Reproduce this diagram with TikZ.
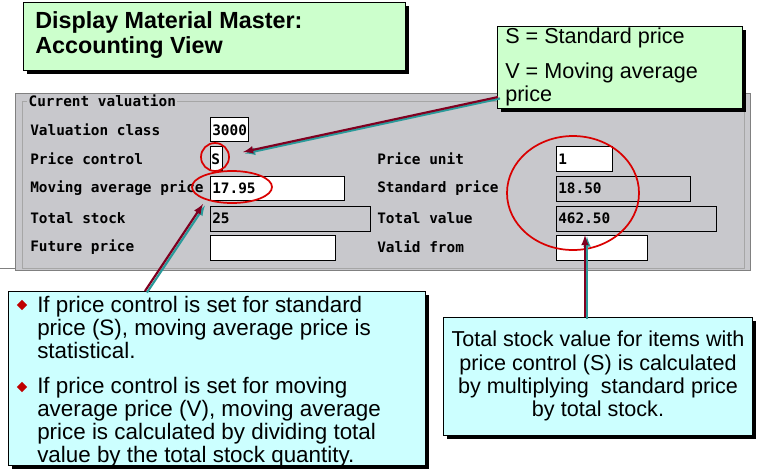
\documentclass[tikz,border=0pt]{standalone}
\usepackage{fontspec}
\setmainfont{Liberation Sans}
\newfontfamily\sapfont{DejaVu Sans Mono}
\usetikzlibrary{shapes.geometric}
\definecolor{callgreen}{HTML}{CCFFCC}
\definecolor{callcyan}{HTML}{CCFFFF}
\definecolor{panelgray}{HTML}{C8C8CC}
\definecolor{arrred}{HTML}{800020}
\definecolor{arrteal}{HTML}{2A9A9A}
\begin{document}
\begin{tikzpicture}[x=0.75pt,y=-0.75pt,
  callout/.style={draw=black,line width=0.6pt},
  shadow/.style={fill=black},
  lbl/.style={anchor=west,inner sep=0,font=\sapfont\bfseries\fontsize{10.8}{12}\selectfont},
  fld/.style={draw=black,line width=0.5pt},
  val/.style={anchor=west,inner sep=0,font=\sapfont\bfseries\fontsize{10.8}{12}\selectfont},
  ring/.style={draw=red!85!black,line width=1.3pt},
  txt/.style={font=\fontsize{16.2}{17.3}\selectfont,align=left,inner sep=0}]
\useasboundingbox (0,0) rectangle (766,472);
\fill[white] (0,0) rectangle (766,472);
% panel
\draw[gray,fill=panelgray] (15,93) rectangle (750,270);
\draw[gray] (0,268) -- (15,268);
\draw[gray!70!white,line width=0.6pt] (22,101) rectangle (744,268);
\node[lbl,fill=panelgray,inner sep=1pt] (cv) at (27,101) {Current valuation};
% left labels
\node[lbl] (l1) at (30,130) {Valuation class};
\node[lbl] (l2) at (30,159) {Price control};
\node[lbl] (l3) at (30,188) {Moving average price};
\node[lbl] (l4) at (30,218) {Total stock};
\node[lbl] (l5) at (30,247) {Future price};
\node[lbl] (r1) at (377,159) {Price unit};
\node[lbl] (r2) at (377,188) {Standard price};
\node[lbl] (r3) at (377,218) {Total value};
\node[lbl] (r4) at (377,247) {Valid from};
% fields
\draw[fld,fill=white] (210,117) rectangle (248,141);
\node[val] (v1) at (212,130) {3000};
\draw[fld,fill=white] (210,146) rectangle (222,170);
\node[val] (v2) at (211,159) {S};
\draw[fld,fill=white] (210,176) rectangle (344,200);
\node[val] (v3) at (212,188) {17.95};
\draw[fld,fill=panelgray] (210,206) rectangle (370,231);
\node[val] (v4) at (212,218) {25};
\draw[fld,fill=white] (210,235) rectangle (335,260);
\draw[fld,fill=white] (556,146) rectangle (612,171);
\node[val] (w1) at (558,159) {1};
\draw[fld,fill=panelgray] (556,176) rectangle (690,201);
\node[val] (w2) at (558,188) {18.50};
\draw[fld,fill=panelgray] (556,206) rectangle (716,231);
\node[val] (w3) at (558,218) {462.50};
\draw[fld,fill=white] (556,235) rectangle (647,260);
% rings
\draw[ring] (215,157) ellipse [x radius=14,y radius=14];
\draw[ring] (232,187) ellipse [x radius=40,y radius=16];
\draw[ring] (573,193) ellipse [x radius=66,y radius=57];
% title
\fill[shadow] (27,6) rectangle (409,74);
\draw[callout,fill=callgreen] (23,2) rectangle (405,70);
\node[txt,anchor=west,font=\bfseries\fontsize{17.5}{19}\selectfont] (title) at (35,35) {Display Material Master:\\Accounting View};
% SV callout
\fill[shadow] (501,30) rectangle (746,112);
\draw[callout,fill=callgreen] (497,26) rectangle (742,108);
\node[txt,anchor=west] (sv) at (505,67) {S = Standard price\\[9pt]V = Moving average\\price};
% left box
\fill[shadow] (12,295) rectangle (429,469);
\draw[callout,fill=callcyan] (8,291) rectangle (425,465);
\node[txt,anchor=north west,font=\fontsize{16.8}{17.3}\selectfont] (lb) at (37,296) {If price control is set for standard\\price (S), moving average price is\\statistical.\\[9pt]If price control is set for moving\\average price (V), moving average\\price is calculated by dividing total\\value by the total stock quantity.};
\node[diamond,fill=red!75!black,inner sep=0,minimum size=8pt] (d1) at (22,305) {};
\node[diamond,fill=red!75!black,inner sep=0,minimum size=8pt] (d2) at (22,387) {};
% right box
\fill[shadow] (447,321) rectangle (756,439);
\draw[callout,fill=callcyan] (443,317) rectangle (752,435);
\node[txt,align=center] (rb) at (598,376) {Total stock value for items with\\price control (S) is calculated\\by multiplying\ \ standard price\\by total stock.};
% arrows
\coordinate (a1s) at (498,97); \coordinate (a1e) at (243,152);
\coordinate (a2s) at (145,291); \coordinate (a2e) at (203,204);
\coordinate (a3s) at (585,317); \coordinate (a3e) at (585,235);
\foreach \s/\e in {a1s/a1e,a2s/a2e,a3s/a3e}{
  \draw[arrteal,line width=1.6pt,-latex] ([shift={(2,1.5)}]\s) -- ([shift={(2,1.5)}]\e);
  \draw[arrred,line width=1.6pt,-latex] (\s) -- (\e);
}
\end{tikzpicture}
\end{document}
